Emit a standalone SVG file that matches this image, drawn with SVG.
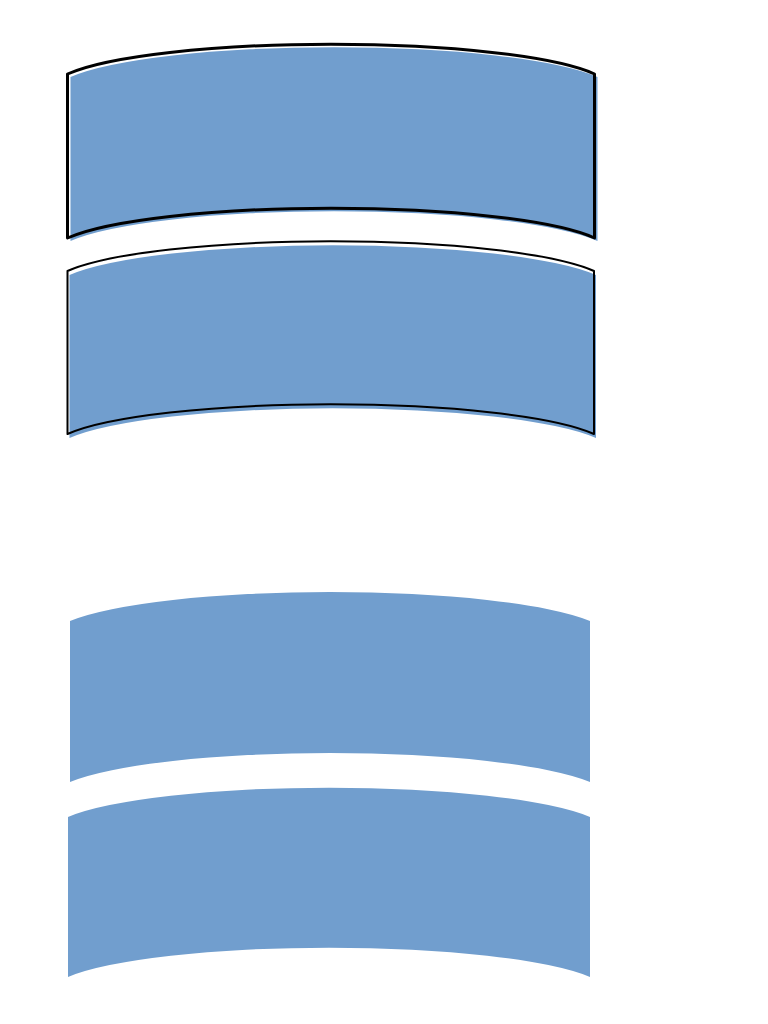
<svg xmlns="http://www.w3.org/2000/svg" width="768" height="1024" viewBox="0 0 768 1024">
  <style>
    .fill { fill: #719ECE; stroke: none; }
    .outline { fill: none; stroke: #000; stroke-linejoin: round; }
  </style>
  <rect width="768" height="1024" fill="#fff"/>
  <g id="band1">
    <path class="fill" transform="translate(3,3)" d="M67.5 74 A280 45 0 0 1 594.5 74 L594.5 238 A280 45 0 0 0 67.5 238 Z"/>
    <path class="outline" stroke-width="3" d="M67.5 74 A280 45 0 0 1 594.5 74 L594.5 238 A280 45 0 0 0 67.5 238 Z"/>
  </g>
  <g id="band2">
    <path class="fill" transform="translate(2,4)" d="M67.5 271 A280 45 0 0 1 594 271 L594 434 A280 45 0 0 0 67.5 434 Z"/>
    <path class="outline" stroke-width="2" d="M67.5 271 A280 45 0 0 1 594 271 L594 434 A280 45 0 0 0 67.5 434 Z"/>
  </g>
  <g id="band3">
    <path class="fill" d="M70 621 A280 46 0 0 1 590 621 L590 782 A280 46 0 0 0 70 782 Z"/>
  </g>
  <g id="band4">
    <path class="fill" d="M68 817 A280 46 0 0 1 590 817 L590 977 A280 46 0 0 0 68 977 Z"/>
  </g>
  <g id="connectors"/>
</svg>
